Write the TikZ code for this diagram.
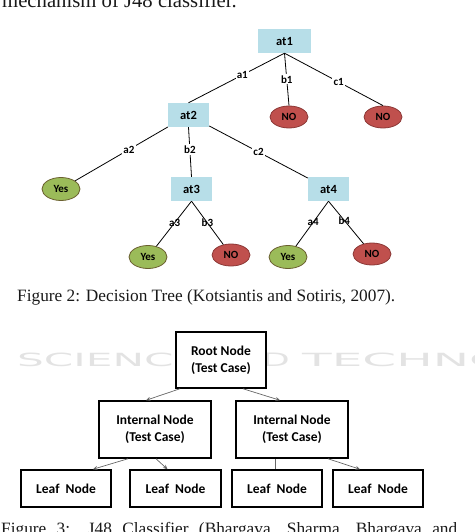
\documentclass[tikz,border=0pt]{standalone}
\usepackage{fontspec}
\setmainfont{Liberation Serif}
\newfontfamily\carl{Carlito}
\newfontfamily\wmfont{DejaVu Sans}
\usetikzlibrary{arrows.meta,shapes.geometric}
\definecolor{boxblue}{HTML}{B7DEE8}
\definecolor{nored}{HTML}{C0504D}
\definecolor{noredd}{HTML}{8C3836}
\definecolor{yesgreen}{HTML}{9BBB59}
\definecolor{yesgreend}{HTML}{6B6030}
\definecolor{wmgray}{gray}{0.89}
\begin{document}
\begin{tikzpicture}[x=1pt,y=-1pt,
  attr/.style={fill=boxblue, minimum width=41pt, minimum height=24pt, inner sep=0pt,
    font=\carl\bfseries\fontsize{12.5}{14}\selectfont},
  noleaf/.style={ellipse, fill=nored, draw=noredd, line width=0.8pt, minimum width=38pt,
    minimum height=22pt, inner sep=0pt, font=\carl\bfseries\fontsize{11}{13}\selectfont},
  yesleaf/.style={ellipse, fill=yesgreen, draw=yesgreend, line width=0.8pt, minimum width=38pt,
    minimum height=23pt, inner sep=0pt, font=\carl\bfseries\fontsize{11}{13}\selectfont},
  edge/.style={line width=0.8pt, draw=black},
  elabel/.style={fill=white, inner sep=1.2pt, font=\carl\bfseries\fontsize{11}{12}\selectfont},
  olabel/.style={inner sep=0pt, font=\carl\bfseries\fontsize{11}{12}\selectfont},
  tbox/.style={draw=black, line width=1.5pt, fill=white, align=center, inner sep=0pt,
    font=\carl\bfseries\fontsize{13.5}{17}\selectfont},
  arr/.style={draw=black!60, line width=0.7pt, -{Stealth[length=4.5pt,width=4pt]}},
  plainln/.style={draw=black!60, line width=0.7pt},
  captext/.style={inner sep=0pt, anchor=base west, text=black!90},
  wm/.style={inner sep=0pt, text=wmgray, font=\wmfont}
]
\useasboundingbox (0,0) rectangle (474,532);

% ---------- top text line (cut off) ----------
\node[captext, font=\fontsize{20.7}{22}\selectfont] (toptext) at (2,7.5) {mechanism of J48 classifier.};

% ---------- decision tree ----------
\node[attr, minimum width=53pt] (at1) at (284.5,41) {at1};
\node[attr] (at2) at (188.5,115) {at2};
\node[attr] (at3) at (191.5,189) {at3};
\node[attr] (at4) at (328.5,189) {at4};
\node[noleaf] (no1) at (289,117) {NO};
\node[noleaf] (no2) at (383,117) {NO};
\node[yesleaf] (yes2) at (61,189) {Yes};
\node[yesleaf] (yes3) at (148,257) {Yes};
\node[noleaf] (no3) at (231,255) {NO};
\node[yesleaf] (yes4) at (288,257) {Yes};
\node[noleaf] (no4) at (372,254) {NO};

\draw[edge] (at1.south) -- node[elabel, pos=0.44] {a1} (at2.north);
\draw[edge] (at1.south) -- node[elabel, pos=0.5] {b1} (no1.north);
\draw[edge] (at1.south) -- node[elabel, pos=0.55] {c1} (no2.north);
\draw[edge] (at2) -- node[elabel, pos=0.42] {a2} (yes2);
\draw[edge] (at2.south) -- node[elabel, pos=0.45] {b2} (at3.north);
\draw[edge] (at2) -- node[elabel, pos=0.5] {c2} (at4);
\draw[edge] (at3.south) -- node[olabel, pos=0.48] {a3} (yes3);
\draw[edge] (at3.south) -- node[olabel, pos=0.5] {b3} (no3);
\draw[edge] (at4.south) -- node[olabel, pos=0.47] {a4} (yes4);
\draw[edge] (at4.south) -- node[olabel, pos=0.45] {b4} (no4);

% ---------- caption 2 ----------
\node[captext, font=\fontsize{17.3}{20}\selectfont] (cap2) at (17,301)
  {Figure 2: Decision Tree (Kotsiantis and Sotiris, 2007).};

% ---------- watermark ----------
\node[wm, anchor=west] (wm1) at (17,360) {\resizebox{183pt}{13.5pt}{SCIENCE}};
\node[wm, anchor=east] (wm2) at (290,360) {\resizebox{80pt}{13.5pt}{AND}};
\node[wm, anchor=west] (wm3) at (302,360) {\resizebox{205pt}{13.5pt}{TECHNO}};

% ---------- J48 classifier diagram ----------
\node[tbox, minimum width=90pt, minimum height=56pt] (root) at (221,360) {Root Node\\(Test Case)};
\node[tbox, minimum width=112pt, minimum height=57pt] (int1) at (155,429.5) {Internal Node\\(Test Case)};
\node[tbox, minimum width=112pt, minimum height=57pt] (int2) at (292,429.5) {Internal Node\\(Test Case)};
\node[tbox, minimum width=90pt, minimum height=37pt] (leaf1) at (66,488.5) {Leaf\hspace{0.45em}Node};
\node[tbox, minimum width=91pt, minimum height=37pt] (leaf2) at (175.5,488.5) {Leaf\hspace{0.45em}Node};
\node[tbox, minimum width=90pt, minimum height=37pt] (leaf3) at (277,488.5) {Leaf\hspace{0.45em}Node};
\node[tbox, minimum width=90pt, minimum height=37pt] (leaf4) at (378,488.5) {Leaf\hspace{0.45em}Node};

\draw[arr] ([xshift=-41pt]root.south) -- ([xshift=-9pt]int1.north);
\draw[arr] ([xshift=22pt]root.south) -- ([xshift=-12pt]int2.north);
\draw[arr] ([xshift=-27pt]int1.south) -- ([xshift=27pt]leaf1.north);
\draw[arr] ([xshift=1pt]int1.south) -- ([xshift=-8pt]leaf2.north);
\draw[plainln] ([xshift=-17pt]int2.south) -- ([xshift=-2pt]leaf3.north);
\draw[arr] ([xshift=36pt]int2.south) -- ([xshift=-18pt]leaf4.north);

% ---------- caption 3 (cut off) ----------
\node[captext, font=\fontsize{17.3}{20}\selectfont] (cap3) at (1,534)
  {\makebox[456pt][s]{Figure 3: J48 Classifier (Bhargava, Sharma, Bhargava and}};
\end{tikzpicture}
\end{document}
